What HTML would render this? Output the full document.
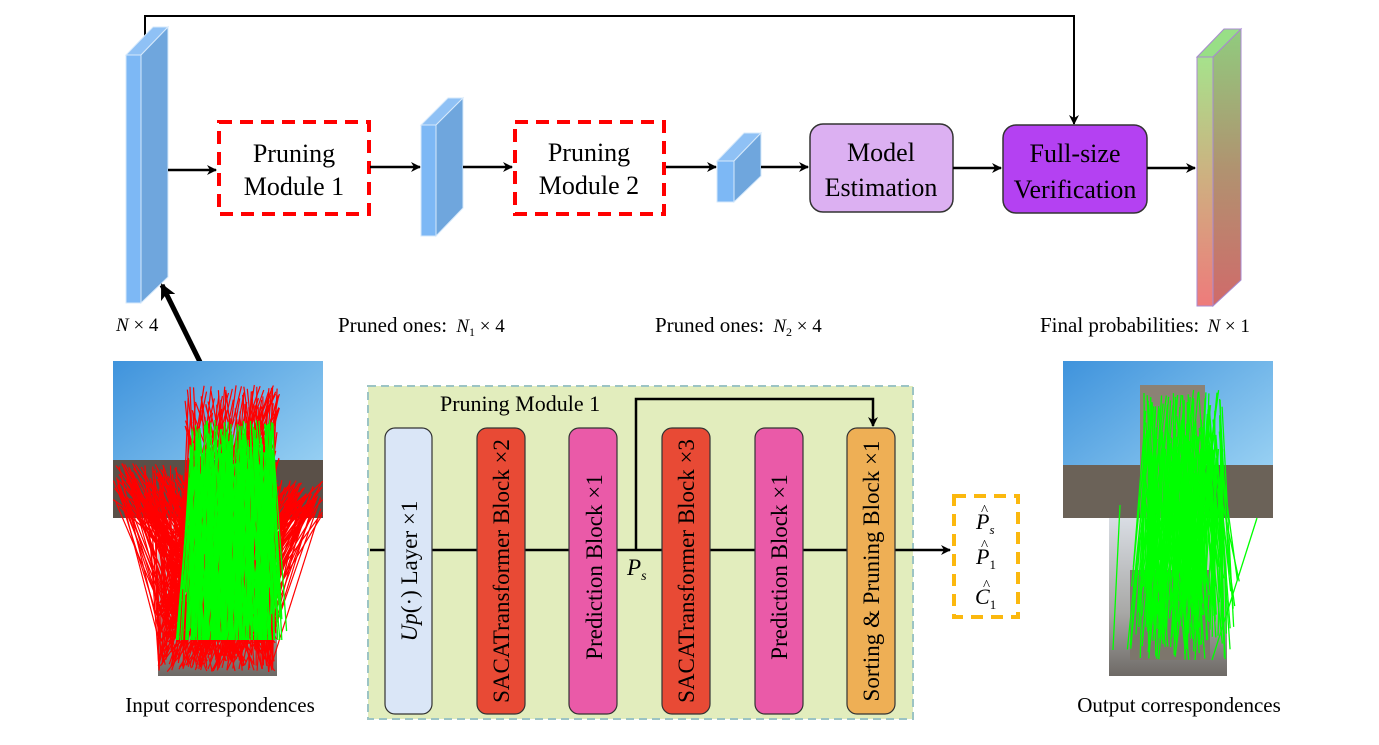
<!DOCTYPE html>
<html><head><meta charset="utf-8">
<style>
html,body{margin:0;padding:0;background:#fff;}
body{width:1379px;height:745px;overflow:hidden;position:relative;font-family:"Liberation Serif",serif;}
svg{position:absolute;left:0;top:0;}
</style></head>
<body>
<svg width="1379" height="745" viewBox="0 0 1379 745" xmlns="http://www.w3.org/2000/svg" font-family="Liberation Serif, serif">
<defs>
<marker id="ah" markerWidth="10" markerHeight="10" refX="9" refY="5" orient="auto" markerUnits="userSpaceOnUse" viewBox="0 0 10 10">
<path d="M0,0 L10,5 L0,10 L3,5 z" fill="#000"/></marker>
<marker id="ah2" markerWidth="16" markerHeight="16" refX="14" refY="8" orient="auto" markerUnits="userSpaceOnUse" viewBox="0 0 16 16">
<path d="M0,0 L16,8 L0,16 L4,8 z" fill="#000"/></marker>
<linearGradient id="fin" x1="0" y1="0" x2="0" y2="1"><stop offset="0" stop-color="#a6e28c"/><stop offset="0.5" stop-color="#cfae80"/><stop offset="1" stop-color="#ee7b7b"/></linearGradient>
<linearGradient id="fin2" x1="0" y1="0" x2="0" y2="1"><stop offset="0" stop-color="#90cc7e"/><stop offset="0.5" stop-color="#b09370"/><stop offset="1" stop-color="#d06a6a"/></linearGradient>
<linearGradient id="sky" x1="0" y1="0" x2="1" y2="1"><stop offset="0" stop-color="#3f93dc"/><stop offset="1" stop-color="#a9dcf7"/></linearGradient>
<linearGradient id="sky2" x1="0" y1="0" x2="0" y2="1"><stop offset="0" stop-color="#d9dde4"/><stop offset="0.6" stop-color="#a8a8a6"/><stop offset="1" stop-color="#6e6a66"/></linearGradient>
</defs>

<polyline points="145,43 145,16 1074,16 1074,124" fill="none" stroke="#000" stroke-width="2" marker-end="url(#ah)"/>

<polygon points="126,55 153,27 168,27 141,55" fill="#8fc1f5" stroke="#d6e9fb" stroke-width="1"/>
<polygon points="141,55 168,27 168,277 141,303" fill="#6fa6dd" stroke="#d6e9fb" stroke-width="1"/>
<rect x="126" y="55" width="15" height="248" fill="#7db8f5" stroke="#d6e9fb" stroke-width="1"/>

<line x1="168" y1="170" x2="216" y2="170" stroke="#000" stroke-width="2.5" marker-end="url(#ah)"/>
<rect x="219" y="122" width="150" height="92" fill="#fff" stroke="#f00" stroke-width="4" stroke-dasharray="13,8"/>
<g font-size="26" text-anchor="middle">
<text x="294" y="162">Pruning</text>
<text x="294" y="195">Module 1</text>
<text x="589" y="161">Pruning</text>
<text x="589" y="194">Module 2</text>
<text x="881" y="161">Model</text>
<text x="881" y="196">Estimation</text>
<text x="1075" y="162">Full-size</text>
<text x="1075" y="198">Verification</text>
</g>
<line x1="370" y1="167" x2="420" y2="167" stroke="#000" stroke-width="2.5" marker-end="url(#ah)"/>

<polygon points="421,125 448,98 463,98 436,125" fill="#8fc1f5" stroke="#d6e9fb"/>
<polygon points="436,125 463,98 463,208 436,236" fill="#6fa6dd" stroke="#d6e9fb"/>
<rect x="421" y="125" width="15" height="111" fill="#7db8f5" stroke="#d6e9fb"/>

<line x1="463" y1="167" x2="512" y2="167" stroke="#000" stroke-width="2.5" marker-end="url(#ah)"/>
<rect x="515" y="122" width="149" height="92" fill="none" stroke="#f00" stroke-width="4" stroke-dasharray="13,8"/>
<line x1="666" y1="167" x2="716" y2="167" stroke="#000" stroke-width="2.5" marker-end="url(#ah)"/>

<polygon points="717,161 744,133 761,133 734,161" fill="#8fc1f5" stroke="#d6e9fb"/>
<polygon points="734,161 761,133 761,176 734,202" fill="#6fa6dd" stroke="#d6e9fb"/>
<rect x="717" y="161" width="17" height="41" fill="#7db8f5" stroke="#d6e9fb"/>

<line x1="761" y1="167" x2="808" y2="167" stroke="#000" stroke-width="2.5" marker-end="url(#ah)"/>
<rect x="810" y="124" width="143" height="88" rx="13" fill="#dcb0f2" stroke="#333" stroke-width="1.5"/>
<line x1="953" y1="168" x2="1001" y2="168" stroke="#000" stroke-width="2.5" marker-end="url(#ah)"/>
<rect x="1003" y="125" width="144" height="88" rx="13" fill="#b441f2" stroke="#333" stroke-width="1.5"/>
<g font-size="26" text-anchor="middle">
<text x="881" y="161">Model</text>
<text x="881" y="196">Estimation</text>
<text x="1075" y="162">Full-size</text>
<text x="1075" y="198">Verification</text>
</g>
<line x1="1147" y1="168" x2="1195" y2="168" stroke="#000" stroke-width="2.5" marker-end="url(#ah)"/>

<polygon points="1197,57 1224,29 1241,29 1213,57" fill="#98df86" stroke="#a88ad0"/>
<polygon points="1213,57 1241,29 1241,280 1213,306" fill="url(#fin2)" stroke="#a88ad0"/>
<rect x="1197" y="57" width="16" height="249" fill="url(#fin)" stroke="#a88ad0"/>

<text x="116" y="331" font-size="19"><tspan font-style="italic">N</tspan> × 4</text>
<text x="338" y="332" font-size="21">Pruned ones: <tspan font-style="italic" font-size="19" dx="4">N</tspan><tspan font-size="12" dy="4">1</tspan><tspan font-size="19" dy="-4"> × 4</tspan></text>
<text x="655" y="332" font-size="21">Pruned ones: <tspan font-style="italic" font-size="19" dx="4">N</tspan><tspan font-size="12" dy="4">2</tspan><tspan font-size="19" dy="-4"> × 4</tspan></text>
<text x="1040" y="332" font-size="21">Final probabilities: <tspan font-style="italic" font-size="19" dx="3">N</tspan><tspan font-size="19"> × 1</tspan></text>

<line x1="200" y1="362" x2="162" y2="285" stroke="#000" stroke-width="5" marker-end="url(#ah2)"/>

<rect x="113" y="361" width="210" height="157" fill="url(#sky)"/>
<rect x="113" y="460" width="210" height="58" fill="#5a5048"/>
<rect x="158" y="518" width="119" height="158" fill="url(#sky2)"/>
<g id="leftlines"></g>

<rect x="1063" y="361" width="210" height="157" fill="url(#sky)"/>
<rect x="1063" y="465" width="210" height="53" fill="#6b6258"/>
<rect x="1140" y="385" width="65" height="133" fill="#8b8275"/>
<rect x="1109" y="518" width="118" height="158" fill="url(#sky2)"/>
<rect x="1130" y="570" width="80" height="90" fill="#7d766c"/>
<g id="rightlines"></g>

<text x="220" y="712" font-size="21" text-anchor="middle">Input correspondences</text>
<text x="1179" y="712" font-size="21" text-anchor="middle">Output correspondences</text>

<rect x="368" y="386" width="545" height="333" fill="#e2edbd" stroke="#9cc4c4" stroke-width="2" stroke-dasharray="8,5"/>
<text x="440" y="411" font-size="22">Pruning Module 1</text>
<line x1="370" y1="550" x2="950" y2="550" stroke="#000" stroke-width="2.5" marker-end="url(#ah)"/>
<polyline points="636,550 636,399 873,399 873,426" fill="none" stroke="#000" stroke-width="2.5" marker-end="url(#ah)"/>
<text x="627" y="575" font-size="23" font-style="italic">P<tspan font-size="14" dy="5">s</tspan></text>

<rect x="385" y="428" width="47" height="286" rx="10" fill="#dae6f7" stroke="#333" stroke-width="1.2"/>
<rect x="477" y="428" width="48" height="286" rx="10" fill="#e84a35" stroke="#333" stroke-width="1.2"/>
<rect x="569" y="428" width="48" height="286" rx="10" fill="#ea5aa8" stroke="#333" stroke-width="1.2"/>
<rect x="662" y="428" width="48" height="286" rx="10" fill="#e84a35" stroke="#333" stroke-width="1.2"/>
<rect x="755" y="428" width="48" height="286" rx="10" fill="#ea5aa8" stroke="#333" stroke-width="1.2"/>
<rect x="847" y="428" width="48" height="286" rx="10" fill="#eeaf55" stroke="#333" stroke-width="1.2"/>

<g font-size="23" text-anchor="middle">
<text transform="translate(417,571) rotate(-90)"><tspan font-style="italic">Up</tspan>(·) Layer ×1</text>
<text transform="translate(509,571) rotate(-90)">SACATransformer Block ×2</text>
<text transform="translate(602,567) rotate(-90)">Prediction Block ×1</text>
<text transform="translate(694,571) rotate(-90)">SACATransformer Block ×3</text>
<text transform="translate(787,567) rotate(-90)">Prediction Block ×1</text>
<text transform="translate(879,571) rotate(-90)">Sorting &amp; Pruning Block ×1</text>
</g>

<rect x="954" y="496" width="64" height="121" fill="#fff" stroke="#fbb80e" stroke-width="4" stroke-dasharray="12,8"/>
<g font-size="22" font-style="italic">
<text x="976" y="529">P<tspan font-size="13" dy="5">s</tspan></text>
<text x="981" y="515" font-size="15" font-style="normal">^</text>
<text x="976" y="564">P<tspan font-size="13" dy="5" font-style="normal">1</tspan></text>
<text x="981" y="550" font-size="15" font-style="normal">^</text>
<text x="975" y="604">C<tspan font-size="13" dy="5" font-style="normal">1</tspan></text>
<text x="983" y="590" font-size="15" font-style="normal">^</text>
</g>
</svg>
<script>
(function(){
var s=7;function r(){s=(s*16807)%2147483647;return s/2147483647;}
var ns="http://www.w3.org/2000/svg";
function ln(g,x1,y1,x2,y2,c,w){var l=document.createElementNS(ns,"line");l.setAttribute("x1",x1);l.setAttribute("y1",y1);l.setAttribute("x2",x2);l.setAttribute("y2",y2);l.setAttribute("stroke",c);l.setAttribute("stroke-width",w);g.appendChild(l);}
var g=document.getElementById("leftlines");
for(var i=0;i<600;i++){
 var side=r();var x1,y1;
 if(side<0.25){x1=113+r()*75;y1=462+r()*45;}
 else if(side<0.45){x1=265+r()*58;y1=480+r()*35;}
 else {x1=185+r()*95;y1=385+r()*120;}
 var x2=158+r()*119,y2=600+r()*72;
 ln(g,x1,y1,x2,y2,"#ff0000",1.2);
}
for(var i=0;i<320;i++){
 var x1=190+r()*85,y1=420+r()*80,x2=x1-15+r()*30,y2=y1+120+r()*130;
 if(y2>640)y2=640;
 ln(g,x1,y1,x2,y2,"#00ff00",1.3);
}
var h=document.getElementById("rightlines");
for(var i=0;i<260;i++){
 var x1=1143+r()*80,y1=390+r()*110,x2=x1-25+r()*45,y2=560+r()*100;
 ln(h,x1,y1,x2,y2,"#00ff00",1.3);
}
ln(h,1257,518,1212,660,"#00ff00",1.3);
ln(h,1120,505,1113,650,"#00ff00",1.3);
})();
</script>
</body></html>
